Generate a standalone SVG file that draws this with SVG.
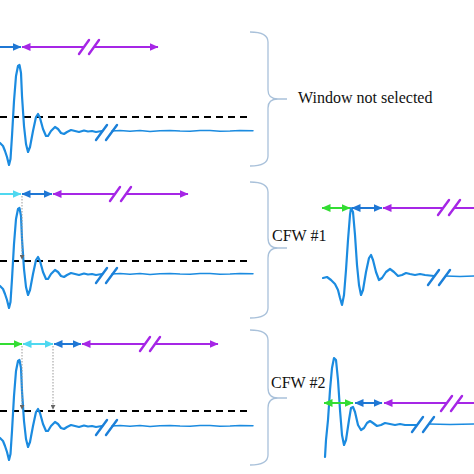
<svg xmlns="http://www.w3.org/2000/svg" width="474" height="474" viewBox="0 0 474 474">
<style>
.wave{fill:none;stroke:#1b8be0;stroke-width:2.2;stroke-linejoin:round;stroke-linecap:round}
.tail{fill:none;stroke:#1b8be0;stroke-width:1.5;stroke-linejoin:round;stroke-linecap:round}
.wslash{fill:none;stroke:#1b7fd8;stroke-width:2.4;stroke-linecap:round}
.dash{stroke:#000;stroke-width:2.2;stroke-dasharray:7 5}
.ab{stroke:#1f77d4;stroke-width:2;fill:none}
.ap{stroke:#a626e6;stroke-width:2;fill:none}
.ag{stroke:#33dd33;stroke-width:2;fill:none}
.ac{stroke:#4fd8f0;stroke-width:2;fill:none}
.ps{stroke:#a626e6;stroke-width:2.4;stroke-linecap:round;fill:none}
.dot{stroke:#999;stroke-width:1;stroke-dasharray:1.5 1.5;fill:none}
.brace{fill:none;stroke:#a9c1da;stroke-width:1.3}
.lbl{font-family:"Liberation Serif","Times New Roman",serif;font-size:16px;fill:#111}
</style>
<defs>
<marker id="mb" viewBox="0 0 9 9" refX="8.5" refY="4.5" markerWidth="9" markerHeight="9" markerUnits="userSpaceOnUse" orient="auto-start-reverse"><path d="M0,0.5 L9,4.5 L0,8.5 z" fill="#1f77d4"/></marker>
<marker id="mp" viewBox="0 0 9 9" refX="8.5" refY="4.5" markerWidth="9" markerHeight="9" markerUnits="userSpaceOnUse" orient="auto-start-reverse"><path d="M0,0.5 L9,4.5 L0,8.5 z" fill="#a626e6"/></marker>
<marker id="mg" viewBox="0 0 9 9" refX="8.5" refY="4.5" markerWidth="9" markerHeight="9" markerUnits="userSpaceOnUse" orient="auto-start-reverse"><path d="M0,0.5 L9,4.5 L0,8.5 z" fill="#33dd33"/></marker>
<marker id="mc" viewBox="0 0 9 9" refX="8.5" refY="4.5" markerWidth="9" markerHeight="9" markerUnits="userSpaceOnUse" orient="auto-start-reverse"><path d="M0,0.5 L9,4.5 L0,8.5 z" fill="#4fd8f0"/></marker>
<marker id="mk" viewBox="0 0 6 6" refX="5" refY="3" markerWidth="5" markerHeight="5" markerUnits="userSpaceOnUse" orient="auto"><path d="M0,0 L6,3 L0,6 z" fill="#666"/></marker>
<g id="wave">
<path class="wave" d="M0,12 L3,15 L5,20 L7,26 L9,34 L10.5,28 L12,5 L14,-30 L16,-55 L18,-65 L19.5,-66 L21,-58 L22,-35 L24,-5 L26,13 L28,21 L30,16 L33,0 L36,-14 L38,-17 L40,-13 L43,-2 L46,5 L48,5 L51,0 L55,-4 L58,-2 L61,2 L64,3 L67,1 L71,-1 L75,0 L79,1 L84,-0.5 L88,0.5 L92,0 L96,1 L102,0"/>
<path class="tail" d="M112,0 L120,-0.6 L130,0.2 L140,-0.5 L150,0.5 L160,-0.2 L170,-0.6 L180,0.1 L190,0.3 L200,-0.4 L210,-0.5 L220,0.2 L230,0 L240,-0.5 L253,-0.3"/>
<path class="wslash" d="M96,9 L107,-6 M106,9 L117,-6"/>
</g>
</defs>

<g id="panel-1">
<line class="dash" x1="0" y1="117" x2="252" y2="117"/>
<use href="#wave" transform="translate(0,131)"/>
</g>
<g id="panel-2">
<line class="dash" x1="0" y1="261" x2="252" y2="261"/>
<use href="#wave" transform="translate(0,274)"/>
</g>
<g id="panel-3">
<line class="dash" x1="0" y1="411" x2="252" y2="411"/>
<use href="#wave" transform="translate(0,426)"/>
</g>
<g id="panel-right-1">
<path class="wave" d="M323,278 L327,277 L331,280 L335,284 L338,290 L340,298 L342,305 L344,295 L346,270 L348,240 L350,215 L351,208 L353,212 L355,235 L357,265 L359,285 L361,295 L363,290 L366,272 L369,258 L371,255 L373,260 L376,272 L379,280 L382,278 L386,272 L390,269 L394,272 L398,276 L402,275 L406,273 L410,274 L415,275 L420,274 L425,275 L434,276"/>
<path class="tail" d="M446,276 L460,276.5 L474,276"/>
<path class="wslash" d="M428,285 L439,270 M439,285 L450,270"/>
</g>
<g id="panel-right-2">
<path class="wave" d="M325,457 L326,440 L328,420 L330,390 L332,368 L334,358 L336,360 L338,380 L340,410 L342,435 L344,445 L346,440 L349,420 L351,408 L353,407 L355,412 L358,425 L361,430 L364,428 L367,423 L370,421 L373,423 L377,426 L381,425 L385,423 L390,424 L395,425 L400,424 L405,425 L417,425"/>
<path class="tail" d="M429,424 L450,424.5 L474,424"/>
<path class="wslash" d="M412,432 L423,417 M423,432 L434,417"/>
</g>

<g id="connectors">
<line class="ab" x1="0" y1="47" x2="21" y2="47" marker-end="url(#mb)"/>
<line class="ap" x1="22" y1="47" x2="84" y2="47" marker-start="url(#mp)"/>
<line class="ap" x1="94" y1="47" x2="158" y2="47" marker-end="url(#mp)"/>
<path class="ps" d="M79,54 L89,40 M89,54 L99,40"/>
<line class="ac" x1="0" y1="194" x2="21" y2="194" marker-end="url(#mc)"/>
<line class="ab" x1="22" y1="194" x2="52" y2="194" marker-start="url(#mb)" marker-end="url(#mb)"/>
<line class="ap" x1="53" y1="194" x2="116" y2="194" marker-start="url(#mp)"/>
<line class="ap" x1="126" y1="194" x2="188" y2="194" marker-end="url(#mp)"/>
<path class="ps" d="M110,201 L120,187 M121,201 L131,187"/>
<line class="dot" x1="22" y1="196" x2="22" y2="259" marker-end="url(#mk)"/>
<line class="ag" x1="0" y1="344" x2="22" y2="344" marker-end="url(#mg)"/>
<line class="ac" x1="23" y1="344" x2="53" y2="344" marker-start="url(#mc)" marker-end="url(#mc)"/>
<line class="ab" x1="54" y1="344" x2="81" y2="344" marker-start="url(#mb)" marker-end="url(#mb)"/>
<line class="ap" x1="82" y1="344" x2="145" y2="344" marker-start="url(#mp)"/>
<line class="ap" x1="155" y1="344" x2="218" y2="344" marker-end="url(#mp)"/>
<path class="ps" d="M140,351 L150,337 M150,351 L160,337"/>
<line class="dot" x1="22" y1="346" x2="22" y2="409" marker-end="url(#mk)"/>
<line class="dot" x1="53" y1="346" x2="53" y2="409" marker-end="url(#mk)"/>
<line class="ag" x1="322" y1="208" x2="350" y2="208" marker-start="url(#mg)" marker-end="url(#mg)"/>
<line class="ab" x1="352" y1="208" x2="382" y2="208" marker-start="url(#mb)" marker-end="url(#mb)"/>
<line class="ap" x1="383" y1="208" x2="444" y2="208" marker-start="url(#mp)"/>
<line class="ap" x1="455" y1="208" x2="474" y2="208"/>
<path class="ps" d="M438,215 L449,200 M449,215 L460,200"/>
<line class="ag" x1="324" y1="403" x2="353" y2="403" marker-start="url(#mg)" marker-end="url(#mg)"/>
<line class="ab" x1="355" y1="403" x2="382" y2="403" marker-start="url(#mb)" marker-end="url(#mb)"/>
<line class="ap" x1="384" y1="403" x2="446" y2="403" marker-start="url(#mp)"/>
<line class="ap" x1="457" y1="403" x2="474" y2="403"/>
<path class="ps" d="M441,411 L452,396 M451,411 L462,396"/>
<path class="brace" d="M250,32 Q268,32 268,42 L268,90 Q268,99 278,99 L287,99 M278,99 Q268,99 268,108 L268,156 Q268,166 250,166"/>
<path class="brace" d="M250,182 Q268,182 268,192 L268,238 Q268,248 278,248 L287,248 M278,248 Q268,248 268,258 L268,308 Q268,318 250,318"/>
<path class="brace" d="M250,330 Q268,330 268,340 L268,388 Q268,398 278,398 L287,398 M278,398 Q268,398 268,408 L268,455 Q268,465 250,465"/>
</g>

<g id="labels">
<text class="lbl" x="298" y="103">Window not selected</text>
<text class="lbl" x="272" y="241">CFW #1</text>
<text class="lbl" x="271" y="388">CFW #2</text>
</g>
</svg>
